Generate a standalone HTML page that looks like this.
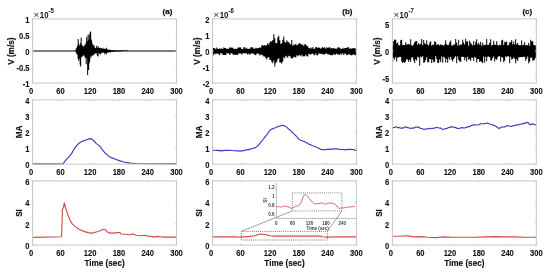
<!DOCTYPE html>
<html><head><meta charset="utf-8"><title>figure</title>
<style>html,body{margin:0;padding:0;background:#fff;width:550px;height:273px;overflow:hidden} svg{display:block}</style>
</head><body>
<svg width="550" height="273" viewBox="0 0 550 273">
<style>text{font-family:'Liberation Sans', Arial, sans-serif;font-weight:bold;fill:#111} .t{font-size:8.6px} .l{font-size:8.7px} .p{font-size:7.8px} .i{font-size:4.5px;fill:#3a3a3a}</style>
<rect width="550" height="273" fill="#fff"/>
<polygon points="32.65,50.40 33.15,50.40 33.15,50.40 33.65,50.40 33.65,50.40 34.15,50.40 34.15,50.40 34.65,50.40 34.65,50.40 35.15,50.40 35.15,50.40 35.65,50.40 35.65,50.40 36.15,50.40 36.15,50.40 36.65,50.40 36.65,50.40 37.15,50.40 37.15,50.40 37.65,50.40 37.65,50.40 38.15,50.40 38.15,50.40 38.65,50.40 38.65,50.40 39.15,50.40 39.15,50.40 39.65,50.40 39.65,50.40 40.15,50.40 40.15,50.40 40.65,50.40 40.65,50.40 41.15,50.40 41.15,50.40 41.65,50.40 41.65,50.40 42.15,50.40 42.15,50.40 42.65,50.40 42.65,50.40 43.15,50.40 43.15,50.40 43.65,50.40 43.65,50.40 44.15,50.40 44.15,50.40 44.65,50.40 44.65,50.40 45.15,50.40 45.15,50.40 45.65,50.40 45.65,50.40 46.15,50.40 46.15,50.40 46.65,50.40 46.65,50.40 47.15,50.40 47.15,50.40 47.65,50.40 47.65,50.40 48.15,50.40 48.15,50.40 48.65,50.40 48.65,50.40 49.15,50.40 49.15,50.40 49.65,50.40 49.65,50.40 50.15,50.40 50.15,50.40 50.65,50.40 50.65,50.40 51.15,50.40 51.15,50.40 51.65,50.40 51.65,50.40 52.15,50.40 52.15,50.40 52.65,50.40 52.65,50.40 53.15,50.40 53.15,50.40 53.65,50.40 53.65,50.40 54.15,50.40 54.15,50.40 54.65,50.40 54.65,50.40 55.15,50.40 55.15,50.40 55.65,50.40 55.65,50.40 56.15,50.40 56.15,50.40 56.65,50.40 56.65,50.40 57.15,50.40 57.15,50.40 57.65,50.40 57.65,50.40 58.15,50.40 58.15,50.40 58.65,50.40 58.65,50.40 59.15,50.40 59.15,50.40 59.65,50.40 59.65,50.40 60.15,50.40 60.15,50.40 60.65,50.40 60.65,50.40 61.15,50.40 61.15,50.40 61.65,50.40 61.65,50.40 62.15,50.40 62.15,50.40 62.65,50.40 62.65,50.40 63.15,50.40 63.15,50.40 63.65,50.40 63.65,50.40 64.15,50.40 64.15,50.40 64.65,50.40 64.65,50.40 65.15,50.40 65.15,50.40 65.65,50.40 65.65,50.40 66.15,50.40 66.15,50.40 66.65,50.40 66.65,50.40 67.15,50.40 67.15,50.40 67.65,50.40 67.65,50.40 68.15,50.40 68.15,50.40 68.65,50.40 68.65,50.40 69.15,50.40 69.15,50.40 69.65,50.40 69.65,50.40 70.15,50.40 70.15,50.40 70.65,50.40 70.65,50.40 71.15,50.40 71.15,50.40 71.65,50.40 71.65,50.40 72.15,50.40 72.15,50.40 72.65,50.40 72.65,50.40 73.15,50.40 73.15,50.40 73.65,50.40 73.65,50.40 74.15,50.40 74.15,50.40 74.65,50.40 74.65,50.40 75.15,50.40 75.15,50.15 75.65,50.15 75.65,48.59 76.15,48.59 76.15,48.21 76.65,48.21 76.65,47.02 77.15,47.02 77.15,45.50 77.65,45.50 77.65,39.00 78.15,39.00 78.15,39.00 78.65,39.00 78.65,43.72 79.15,43.72 79.15,45.72 79.65,45.72 79.65,44.41 80.15,44.41 80.15,42.79 80.65,42.79 80.65,37.60 81.15,37.60 81.15,37.60 81.65,37.60 81.65,44.80 82.15,44.80 82.15,45.15 82.65,45.15 82.65,46.22 83.15,46.22 83.15,47.08 83.65,47.08 83.65,45.86 84.15,45.86 84.15,45.72 84.65,45.72 84.65,44.35 85.15,44.35 85.15,44.76 85.65,44.76 85.65,42.41 86.15,42.41 86.15,37.60 86.65,37.60 86.65,36.53 87.15,36.53 87.15,41.31 87.65,41.31 87.65,34.50 88.15,34.50 88.15,34.50 88.65,34.50 88.65,39.72 89.15,39.72 89.15,34.57 89.65,34.57 89.65,32.60 90.15,32.60 90.15,31.40 90.65,31.40 90.65,31.40 91.15,31.40 91.15,39.44 91.65,39.44 91.65,40.52 92.15,40.52 92.15,44.21 92.65,44.21 92.65,43.57 93.15,43.57 93.15,45.04 93.65,45.04 93.65,45.90 94.15,45.90 94.15,45.14 94.65,45.14 94.65,47.41 95.15,47.41 95.15,47.94 95.65,47.94 95.65,48.31 96.15,48.31 96.15,45.80 96.65,45.80 96.65,45.80 97.15,45.80 97.15,47.95 97.65,47.95 97.65,46.35 98.15,46.35 98.15,46.51 98.65,46.51 98.65,47.40 99.15,47.40 99.15,47.95 99.65,47.95 99.65,47.81 100.15,47.81 100.15,47.74 100.65,47.74 100.65,48.19 101.15,48.19 101.15,47.96 101.65,47.96 101.65,48.47 102.15,48.47 102.15,48.85 102.65,48.85 102.65,47.53 103.15,47.53 103.15,49.10 103.65,49.10 103.65,48.05 104.15,48.05 104.15,48.68 104.65,48.68 104.65,49.12 105.15,49.12 105.15,48.68 105.65,48.68 105.65,49.04 106.15,49.04 106.15,47.80 106.65,47.80 106.65,47.80 107.15,47.80 107.15,49.64 107.65,49.64 107.65,49.33 108.15,49.33 108.15,49.81 108.65,49.81 108.65,49.70 109.15,49.70 109.15,49.36 109.65,49.36 109.65,50.08 110.15,50.08 110.15,49.95 110.65,49.95 110.65,49.86 111.15,49.86 111.15,50.13 111.65,50.13 111.65,50.20 112.15,50.20 112.15,50.13 112.65,50.13 112.65,50.21 113.15,50.21 113.15,50.02 113.65,50.02 113.65,50.21 114.15,50.21 114.15,49.98 114.65,49.98 114.65,50.25 115.15,50.25 115.15,50.28 115.65,50.28 115.65,50.29 116.15,50.29 116.15,49.93 116.65,49.93 116.65,50.33 117.15,50.33 117.15,50.29 117.65,50.29 117.65,50.21 118.15,50.21 118.15,50.33 118.65,50.33 118.65,50.31 119.15,50.31 119.15,50.15 119.65,50.15 119.65,50.33 120.15,50.33 120.15,50.32 120.65,50.32 120.65,50.35 121.15,50.35 121.15,50.32 121.65,50.32 121.65,50.10 122.15,50.10 122.15,50.33 122.65,50.33 122.65,50.31 123.15,50.31 123.15,50.33 123.65,50.33 123.65,50.35 124.15,50.35 124.15,50.32 124.65,50.32 124.65,50.36 125.15,50.36 125.15,50.36 125.65,50.36 125.65,50.34 126.15,50.34 126.15,50.37 126.65,50.37 126.65,50.36 127.15,50.36 127.15,50.37 127.65,50.37 127.65,50.37 128.15,50.37 128.15,50.38 128.65,50.38 128.65,50.39 129.15,50.39 129.15,50.39 129.65,50.39 129.65,50.40 130.15,50.40 130.15,50.40 130.65,50.40 130.65,50.40 131.15,50.40 131.15,50.40 131.65,50.40 131.65,50.40 132.15,50.40 132.15,50.40 132.65,50.40 132.65,50.40 133.15,50.40 133.15,50.40 133.65,50.40 133.65,50.40 134.15,50.40 134.15,50.40 134.65,50.40 134.65,50.40 135.15,50.40 135.15,50.40 135.65,50.40 135.65,50.40 136.15,50.40 136.15,50.40 136.65,50.40 136.65,50.40 137.15,50.40 137.15,50.40 137.65,50.40 137.65,50.40 138.15,50.40 138.15,50.40 138.65,50.40 138.65,50.40 139.15,50.40 139.15,50.40 139.65,50.40 139.65,50.40 140.15,50.40 140.15,50.40 140.65,50.40 140.65,50.40 141.15,50.40 141.15,50.40 141.65,50.40 141.65,50.40 142.15,50.40 142.15,50.40 142.65,50.40 142.65,50.40 143.15,50.40 143.15,50.40 143.65,50.40 143.65,50.40 144.15,50.40 144.15,50.40 144.65,50.40 144.65,50.40 145.15,50.40 145.15,50.40 145.65,50.40 145.65,50.40 146.15,50.40 146.15,50.40 146.65,50.40 146.65,50.40 147.15,50.40 147.15,50.40 147.65,50.40 147.65,50.40 148.15,50.40 148.15,50.40 148.65,50.40 148.65,50.40 149.15,50.40 149.15,50.40 149.65,50.40 149.65,50.40 150.15,50.40 150.15,50.40 150.65,50.40 150.65,50.40 151.15,50.40 151.15,50.40 151.65,50.40 151.65,50.40 152.15,50.40 152.15,50.40 152.65,50.40 152.65,50.40 153.15,50.40 153.15,50.40 153.65,50.40 153.65,50.40 154.15,50.40 154.15,50.40 154.65,50.40 154.65,50.40 155.15,50.40 155.15,50.40 155.65,50.40 155.65,50.40 156.15,50.40 156.15,50.40 156.65,50.40 156.65,50.40 157.15,50.40 157.15,50.40 157.65,50.40 157.65,50.40 158.15,50.40 158.15,50.40 158.65,50.40 158.65,50.40 159.15,50.40 159.15,50.40 159.65,50.40 159.65,50.40 160.15,50.40 160.15,50.40 160.65,50.40 160.65,50.40 161.15,50.40 161.15,50.40 161.65,50.40 161.65,50.40 162.15,50.40 162.15,50.40 162.65,50.40 162.65,50.40 163.15,50.40 163.15,50.40 163.65,50.40 163.65,50.40 164.15,50.40 164.15,50.40 164.65,50.40 164.65,50.40 165.15,50.40 165.15,50.40 165.65,50.40 165.65,50.40 166.15,50.40 166.15,50.40 166.65,50.40 166.65,50.40 167.15,50.40 167.15,50.40 167.65,50.40 167.65,50.40 168.15,50.40 168.15,50.40 168.65,50.40 168.65,50.40 169.15,50.40 169.15,50.40 169.65,50.40 169.65,50.40 170.15,50.40 170.15,50.40 170.65,50.40 170.65,50.40 171.15,50.40 171.15,50.40 171.65,50.40 171.65,50.40 172.15,50.40 172.15,50.40 172.65,50.40 172.65,50.40 173.15,50.40 173.15,50.40 173.65,50.40 173.65,50.40 174.15,50.40 174.15,50.40 174.65,50.40 174.65,50.40 175.15,50.40 175.15,50.40 175.65,50.40 175.65,50.40 176.15,50.40 176.15,51.60 175.65,51.60 175.65,51.60 175.15,51.60 175.15,51.60 174.65,51.60 174.65,51.60 174.15,51.60 174.15,51.60 173.65,51.60 173.65,51.60 173.15,51.60 173.15,51.60 172.65,51.60 172.65,51.60 172.15,51.60 172.15,51.60 171.65,51.60 171.65,51.60 171.15,51.60 171.15,51.60 170.65,51.60 170.65,51.60 170.15,51.60 170.15,51.60 169.65,51.60 169.65,51.60 169.15,51.60 169.15,51.60 168.65,51.60 168.65,51.60 168.15,51.60 168.15,51.60 167.65,51.60 167.65,51.60 167.15,51.60 167.15,51.60 166.65,51.60 166.65,51.60 166.15,51.60 166.15,51.60 165.65,51.60 165.65,51.60 165.15,51.60 165.15,51.60 164.65,51.60 164.65,51.60 164.15,51.60 164.15,51.60 163.65,51.60 163.65,51.60 163.15,51.60 163.15,51.60 162.65,51.60 162.65,51.60 162.15,51.60 162.15,51.60 161.65,51.60 161.65,51.60 161.15,51.60 161.15,51.60 160.65,51.60 160.65,51.60 160.15,51.60 160.15,51.60 159.65,51.60 159.65,51.60 159.15,51.60 159.15,51.60 158.65,51.60 158.65,51.60 158.15,51.60 158.15,51.60 157.65,51.60 157.65,51.60 157.15,51.60 157.15,51.60 156.65,51.60 156.65,51.60 156.15,51.60 156.15,51.60 155.65,51.60 155.65,51.60 155.15,51.60 155.15,51.60 154.65,51.60 154.65,51.60 154.15,51.60 154.15,51.60 153.65,51.60 153.65,51.60 153.15,51.60 153.15,51.60 152.65,51.60 152.65,51.60 152.15,51.60 152.15,51.60 151.65,51.60 151.65,51.60 151.15,51.60 151.15,51.60 150.65,51.60 150.65,51.60 150.15,51.60 150.15,51.60 149.65,51.60 149.65,51.60 149.15,51.60 149.15,51.60 148.65,51.60 148.65,51.60 148.15,51.60 148.15,51.60 147.65,51.60 147.65,51.60 147.15,51.60 147.15,51.60 146.65,51.60 146.65,51.60 146.15,51.60 146.15,51.60 145.65,51.60 145.65,51.60 145.15,51.60 145.15,51.60 144.65,51.60 144.65,51.60 144.15,51.60 144.15,51.60 143.65,51.60 143.65,51.60 143.15,51.60 143.15,51.60 142.65,51.60 142.65,51.60 142.15,51.60 142.15,51.60 141.65,51.60 141.65,51.60 141.15,51.60 141.15,51.60 140.65,51.60 140.65,51.60 140.15,51.60 140.15,51.60 139.65,51.60 139.65,51.60 139.15,51.60 139.15,51.60 138.65,51.60 138.65,51.60 138.15,51.60 138.15,51.60 137.65,51.60 137.65,51.60 137.15,51.60 137.15,51.60 136.65,51.60 136.65,51.60 136.15,51.60 136.15,51.60 135.65,51.60 135.65,51.60 135.15,51.60 135.15,51.60 134.65,51.60 134.65,51.60 134.15,51.60 134.15,51.60 133.65,51.60 133.65,51.60 133.15,51.60 133.15,51.60 132.65,51.60 132.65,51.60 132.15,51.60 132.15,51.60 131.65,51.60 131.65,51.60 131.15,51.60 131.15,51.60 130.65,51.60 130.65,51.60 130.15,51.60 130.15,51.60 129.65,51.60 129.65,51.60 129.15,51.60 129.15,51.60 128.65,51.60 128.65,51.60 128.15,51.60 128.15,51.60 127.65,51.60 127.65,51.60 127.15,51.60 127.15,51.60 126.65,51.60 126.65,51.60 126.15,51.60 126.15,51.60 125.65,51.60 125.65,51.60 125.15,51.60 125.15,51.60 124.65,51.60 124.65,51.60 124.15,51.60 124.15,51.60 123.65,51.60 123.65,51.60 123.15,51.60 123.15,51.60 122.65,51.60 122.65,51.61 122.15,51.61 122.15,51.79 121.65,51.79 121.65,51.62 121.15,51.62 121.15,51.64 120.65,51.64 120.65,51.63 120.15,51.63 120.15,51.64 119.65,51.64 119.65,51.66 119.15,51.66 119.15,51.64 118.65,51.64 118.65,51.64 118.15,51.64 118.15,51.69 117.65,51.69 117.65,51.68 117.15,51.68 117.15,51.69 116.65,51.69 116.65,51.71 116.15,51.71 116.15,51.77 115.65,51.77 115.65,51.73 115.15,51.73 115.15,51.84 114.65,51.84 114.65,51.76 114.15,51.76 114.15,51.78 113.65,51.78 113.65,51.91 113.15,51.91 113.15,51.95 112.65,51.95 112.65,51.88 112.15,51.88 112.15,51.93 111.65,51.93 111.65,52.04 111.15,52.04 111.15,51.92 110.65,51.92 110.65,52.56 110.15,52.56 110.15,52.18 109.65,52.18 109.65,52.06 109.15,52.06 109.15,52.81 108.65,52.81 108.65,52.14 108.15,52.14 108.15,52.70 107.65,52.70 107.65,52.75 107.15,52.75 107.15,52.64 106.65,52.64 106.65,54.40 106.15,54.40 106.15,54.40 105.65,54.40 105.65,53.35 105.15,53.35 105.15,53.13 104.65,53.13 104.65,54.38 104.15,54.38 104.15,52.59 103.65,52.59 103.65,52.78 103.15,52.78 103.15,52.66 102.65,52.66 102.65,52.64 102.15,52.64 102.15,52.97 101.65,52.97 101.65,52.87 101.15,52.87 101.15,54.71 100.65,54.71 100.65,54.56 100.15,54.56 100.15,53.25 99.65,53.25 99.65,54.02 99.15,54.02 99.15,52.89 98.65,52.89 98.65,56.50 98.15,56.50 98.15,56.50 97.65,56.50 97.65,55.82 97.15,55.82 97.15,54.76 96.65,54.76 96.65,53.05 96.15,53.05 96.15,52.94 95.65,52.94 95.65,53.75 95.15,53.75 95.15,53.31 94.65,53.31 94.65,54.93 94.15,54.93 94.15,54.05 93.65,54.05 93.65,54.93 93.15,54.93 93.15,56.30 92.65,56.30 92.65,55.79 92.15,55.79 92.15,55.30 91.65,55.30 91.65,57.28 91.15,57.28 91.15,56.02 90.65,56.02 90.65,58.27 90.15,58.27 90.15,61.68 89.65,61.68 89.65,63.46 89.15,63.46 89.15,70.00 88.65,70.00 88.65,70.00 88.15,70.00 88.15,75.00 87.65,75.00 87.65,75.00 87.15,75.00 87.15,58.39 86.65,58.39 86.65,64.30 86.15,64.30 86.15,64.30 85.65,64.30 85.65,57.65 85.15,57.65 85.15,57.56 84.65,57.56 84.65,56.22 84.15,56.22 84.15,54.78 83.65,54.78 83.65,55.62 83.15,55.62 83.15,56.40 82.65,56.40 82.65,55.98 82.15,55.98 82.15,57.24 81.65,57.24 81.65,57.32 81.15,57.32 81.15,66.40 80.65,66.40 80.65,66.40 80.15,66.40 80.15,64.55 79.65,64.55 79.65,58.57 79.15,58.57 79.15,60.70 78.65,60.70 78.65,60.70 78.15,60.70 78.15,58.92 77.65,58.92 77.65,54.64 77.15,54.64 77.15,54.39 76.65,54.39 76.65,53.44 76.15,53.44 76.15,52.20 75.65,52.20 75.65,51.60 75.15,51.60 75.15,51.60 74.65,51.60 74.65,51.60 74.15,51.60 74.15,51.60 73.65,51.60 73.65,51.60 73.15,51.60 73.15,51.60 72.65,51.60 72.65,51.60 72.15,51.60 72.15,51.60 71.65,51.60 71.65,51.60 71.15,51.60 71.15,51.60 70.65,51.60 70.65,51.60 70.15,51.60 70.15,51.60 69.65,51.60 69.65,51.60 69.15,51.60 69.15,51.60 68.65,51.60 68.65,51.60 68.15,51.60 68.15,51.60 67.65,51.60 67.65,51.60 67.15,51.60 67.15,51.60 66.65,51.60 66.65,51.60 66.15,51.60 66.15,51.60 65.65,51.60 65.65,51.60 65.15,51.60 65.15,51.60 64.65,51.60 64.65,51.60 64.15,51.60 64.15,51.60 63.65,51.60 63.65,51.60 63.15,51.60 63.15,51.60 62.65,51.60 62.65,51.60 62.15,51.60 62.15,51.60 61.65,51.60 61.65,51.60 61.15,51.60 61.15,51.60 60.65,51.60 60.65,51.60 60.15,51.60 60.15,51.60 59.65,51.60 59.65,51.60 59.15,51.60 59.15,51.60 58.65,51.60 58.65,51.60 58.15,51.60 58.15,51.60 57.65,51.60 57.65,51.60 57.15,51.60 57.15,51.60 56.65,51.60 56.65,51.60 56.15,51.60 56.15,51.60 55.65,51.60 55.65,51.60 55.15,51.60 55.15,51.60 54.65,51.60 54.65,51.60 54.15,51.60 54.15,51.60 53.65,51.60 53.65,51.60 53.15,51.60 53.15,51.60 52.65,51.60 52.65,51.60 52.15,51.60 52.15,51.60 51.65,51.60 51.65,51.60 51.15,51.60 51.15,51.60 50.65,51.60 50.65,51.60 50.15,51.60 50.15,51.60 49.65,51.60 49.65,51.60 49.15,51.60 49.15,51.60 48.65,51.60 48.65,51.60 48.15,51.60 48.15,51.60 47.65,51.60 47.65,51.60 47.15,51.60 47.15,51.60 46.65,51.60 46.65,51.60 46.15,51.60 46.15,51.60 45.65,51.60 45.65,51.60 45.15,51.60 45.15,51.60 44.65,51.60 44.65,51.60 44.15,51.60 44.15,51.60 43.65,51.60 43.65,51.60 43.15,51.60 43.15,51.60 42.65,51.60 42.65,51.60 42.15,51.60 42.15,51.60 41.65,51.60 41.65,51.60 41.15,51.60 41.15,51.60 40.65,51.60 40.65,51.60 40.15,51.60 40.15,51.60 39.65,51.60 39.65,51.60 39.15,51.60 39.15,51.60 38.65,51.60 38.65,51.60 38.15,51.60 38.15,51.60 37.65,51.60 37.65,51.60 37.15,51.60 37.15,51.60 36.65,51.60 36.65,51.60 36.15,51.60 36.15,51.60 35.65,51.60 35.65,51.60 35.15,51.60 35.15,51.60 34.65,51.60 34.65,51.60 34.15,51.60 34.15,51.60 33.65,51.60 33.65,51.60 33.15,51.60 33.15,51.60 32.65,51.60" fill="#000"/>
<polygon points="212.30,48.11 213.30,48.11 213.30,47.89 214.30,47.89 214.30,48.30 215.30,48.30 215.30,49.16 216.30,49.16 216.30,47.52 217.30,47.52 217.30,48.80 218.30,48.80 218.30,49.10 219.30,49.10 219.30,48.31 220.30,48.31 220.30,49.05 221.30,49.05 221.30,48.27 222.30,48.27 222.30,48.88 223.30,48.88 223.30,47.59 224.30,47.59 224.30,47.97 225.30,47.97 225.30,47.89 226.30,47.89 226.30,48.95 227.30,48.95 227.30,48.82 228.30,48.82 228.30,48.63 229.30,48.63 229.30,47.21 230.30,47.21 230.30,47.82 231.30,47.82 231.30,47.60 232.30,47.60 232.30,47.73 233.30,47.73 233.30,48.88 234.30,48.88 234.30,48.66 235.30,48.66 235.30,48.72 236.30,48.72 236.30,48.98 237.30,48.98 237.30,47.50 238.30,47.50 238.30,47.76 239.30,47.76 239.30,47.13 240.30,47.13 240.30,47.40 241.30,47.40 241.30,49.10 242.30,49.10 242.30,49.04 243.30,49.04 243.30,47.15 244.30,47.15 244.30,47.27 245.30,47.27 245.30,48.65 246.30,48.65 246.30,47.85 247.30,47.85 247.30,48.91 248.30,48.91 248.30,48.84 249.30,48.84 249.30,48.79 250.30,48.79 250.30,47.19 251.30,47.19 251.30,47.33 252.30,47.33 252.30,47.40 253.30,47.40 253.30,48.77 254.30,48.77 254.30,48.64 255.30,48.64 255.30,47.68 256.30,47.68 256.30,48.19 257.30,48.19 257.30,48.34 258.30,48.34 258.30,48.08 259.30,48.08 259.30,47.22 260.30,47.22 260.30,47.82 261.30,47.82 261.30,45.13 262.30,45.13 262.30,45.15 263.30,45.15 263.30,45.83 264.30,45.83 264.30,44.89 265.30,44.89 265.30,45.65 266.30,45.65 266.30,44.97 267.30,44.97 267.30,42.88 268.30,42.88 268.30,44.38 269.30,44.38 269.30,42.50 270.30,42.50 270.30,40.89 271.30,40.89 271.30,41.77 272.30,41.77 272.30,40.00 273.30,40.00 273.30,34.30 274.30,34.30 274.30,38.21 275.30,38.21 275.30,43.12 276.30,43.12 276.30,43.17 277.30,43.17 277.30,37.56 278.30,37.56 278.30,35.70 279.30,35.70 279.30,40.30 280.30,40.30 280.30,43.89 281.30,43.89 281.30,43.09 282.30,43.09 282.30,39.80 283.30,39.80 283.30,36.40 284.30,36.40 284.30,41.68 285.30,41.68 285.30,42.67 286.30,42.67 286.30,40.21 287.30,40.21 287.30,41.68 288.30,41.68 288.30,42.35 289.30,42.35 289.30,43.52 290.30,43.52 290.30,44.56 291.30,44.56 291.30,40.00 292.30,40.00 292.30,45.74 293.30,45.74 293.30,44.43 294.30,44.43 294.30,44.65 295.30,44.65 295.30,43.64 296.30,43.64 296.30,45.26 297.30,45.26 297.30,44.86 298.30,44.86 298.30,43.50 299.30,43.50 299.30,43.21 300.30,43.21 300.30,43.71 301.30,43.71 301.30,44.65 302.30,44.65 302.30,44.43 303.30,44.43 303.30,46.12 304.30,46.12 304.30,44.12 305.30,44.12 305.30,44.46 306.30,44.46 306.30,45.74 307.30,45.74 307.30,46.20 308.30,46.20 308.30,47.94 309.30,47.94 309.30,48.56 310.30,48.56 310.30,47.46 311.30,47.46 311.30,48.50 312.30,48.50 312.30,46.94 313.30,46.94 313.30,48.75 314.30,48.75 314.30,48.73 315.30,48.73 315.30,47.07 316.30,47.07 316.30,47.16 317.30,47.16 317.30,47.88 318.30,47.88 318.30,47.13 319.30,47.13 319.30,47.89 320.30,47.89 320.30,48.80 321.30,48.80 321.30,47.84 322.30,47.84 322.30,47.00 323.30,47.00 323.30,48.04 324.30,48.04 324.30,47.36 325.30,47.36 325.30,48.73 326.30,48.73 326.30,47.36 327.30,47.36 327.30,48.10 328.30,48.10 328.30,47.57 329.30,47.57 329.30,47.00 330.30,47.00 330.30,48.55 331.30,48.55 331.30,48.07 332.30,48.07 332.30,48.50 333.30,48.50 333.30,47.99 334.30,47.99 334.30,48.76 335.30,48.76 335.30,48.41 336.30,48.41 336.30,48.86 337.30,48.86 337.30,47.41 338.30,47.41 338.30,47.14 339.30,47.14 339.30,47.75 340.30,47.75 340.30,48.66 341.30,48.66 341.30,48.89 342.30,48.89 342.30,47.84 343.30,47.84 343.30,48.77 344.30,48.77 344.30,47.91 345.30,47.91 345.30,47.85 346.30,47.85 346.30,48.03 347.30,48.03 347.30,47.10 348.30,47.10 348.30,47.44 349.30,47.44 349.30,49.02 350.30,49.02 350.30,48.09 351.30,48.09 351.30,48.96 352.30,48.96 352.30,47.96 353.30,47.96 353.30,48.18 354.30,48.18 354.30,48.19 355.30,48.19 355.30,48.73 356.30,48.73 356.30,55.05 355.30,55.05 355.30,55.33 354.30,55.33 354.30,54.34 353.30,54.34 353.30,54.64 352.30,54.64 352.30,55.21 351.30,55.21 351.30,55.26 350.30,55.26 350.30,54.56 349.30,54.56 349.30,54.09 348.30,54.09 348.30,54.90 347.30,54.90 347.30,55.22 346.30,55.22 346.30,53.73 345.30,53.73 345.30,53.39 344.30,53.39 344.30,54.92 343.30,54.92 343.30,53.15 342.30,53.15 342.30,54.56 341.30,54.56 341.30,53.56 340.30,53.56 340.30,55.07 339.30,55.07 339.30,54.53 338.30,54.53 338.30,54.47 337.30,54.47 337.30,53.39 336.30,53.39 336.30,54.51 335.30,54.51 335.30,54.98 334.30,54.98 334.30,53.67 333.30,53.67 333.30,55.27 332.30,55.27 332.30,54.96 331.30,54.96 331.30,55.37 330.30,55.37 330.30,54.75 329.30,54.75 329.30,54.36 328.30,54.36 328.30,54.47 327.30,54.47 327.30,53.49 326.30,53.49 326.30,53.44 325.30,53.44 325.30,54.26 324.30,54.26 324.30,54.73 323.30,54.73 323.30,54.29 322.30,54.29 322.30,53.85 321.30,53.85 321.30,54.03 320.30,54.03 320.30,53.47 319.30,53.47 319.30,53.59 318.30,53.59 318.30,55.34 317.30,55.34 317.30,55.17 316.30,55.17 316.30,53.26 315.30,53.26 315.30,55.14 314.30,55.14 314.30,54.66 313.30,54.66 313.30,53.56 312.30,53.56 312.30,53.66 311.30,53.66 311.30,54.74 310.30,54.74 310.30,54.00 309.30,54.00 309.30,54.04 308.30,54.04 308.30,56.40 307.30,56.40 307.30,56.25 306.30,56.25 306.30,54.73 305.30,54.73 305.30,56.31 304.30,56.31 304.30,56.28 303.30,56.28 303.30,56.49 302.30,56.49 302.30,54.74 301.30,54.74 301.30,56.28 300.30,56.28 300.30,55.29 299.30,55.29 299.30,55.23 298.30,55.23 298.30,56.25 297.30,56.25 297.30,55.35 296.30,55.35 296.30,57.44 295.30,57.44 295.30,57.11 294.30,57.11 294.30,56.69 293.30,56.69 293.30,58.35 292.30,58.35 292.30,58.41 291.30,58.41 291.30,57.65 290.30,57.65 290.30,56.02 289.30,56.02 289.30,55.81 288.30,55.81 288.30,57.81 287.30,57.81 287.30,56.87 286.30,56.87 286.30,55.85 285.30,55.85 285.30,58.59 284.30,58.59 284.30,57.32 283.30,57.32 283.30,61.41 282.30,61.41 282.30,63.60 281.30,63.60 281.30,62.44 280.30,62.44 280.30,62.59 279.30,62.59 279.30,58.21 278.30,58.21 278.30,59.14 277.30,59.14 277.30,61.48 276.30,61.48 276.30,63.29 275.30,63.29 275.30,66.40 274.30,66.40 274.30,60.40 273.30,60.40 273.30,63.21 272.30,63.21 272.30,61.96 271.30,61.96 271.30,59.94 270.30,59.94 270.30,59.87 269.30,59.87 269.30,56.91 268.30,56.91 268.30,57.51 267.30,57.51 267.30,59.43 266.30,59.43 266.30,58.06 265.30,58.06 265.30,56.55 264.30,56.55 264.30,56.38 263.30,56.38 263.30,55.48 262.30,55.48 262.30,54.65 261.30,54.65 261.30,54.52 260.30,54.52 260.30,55.50 259.30,55.50 259.30,53.76 258.30,53.76 258.30,53.69 257.30,53.69 257.30,53.50 256.30,53.50 256.30,55.36 255.30,55.36 255.30,54.73 254.30,54.73 254.30,53.64 253.30,53.64 253.30,53.64 252.30,53.64 252.30,53.07 251.30,53.07 251.30,54.02 250.30,54.02 250.30,54.67 249.30,54.67 249.30,53.49 248.30,53.49 248.30,54.78 247.30,54.78 247.30,53.52 246.30,53.52 246.30,53.28 245.30,53.28 245.30,53.43 244.30,53.43 244.30,53.11 243.30,53.11 243.30,53.49 242.30,53.49 242.30,54.54 241.30,54.54 241.30,53.46 240.30,53.46 240.30,53.40 239.30,53.40 239.30,53.19 238.30,53.19 238.30,54.89 237.30,54.89 237.30,54.42 236.30,54.42 236.30,55.10 235.30,55.10 235.30,54.55 234.30,54.55 234.30,54.90 233.30,54.90 233.30,54.15 232.30,54.15 232.30,53.08 231.30,53.08 231.30,53.71 230.30,53.71 230.30,54.98 229.30,54.98 229.30,53.17 228.30,53.17 228.30,53.61 227.30,53.61 227.30,53.35 226.30,53.35 226.30,54.89 225.30,54.89 225.30,54.95 224.30,54.95 224.30,54.90 223.30,54.90 223.30,54.63 222.30,54.63 222.30,53.48 221.30,53.48 221.30,53.09 220.30,53.09 220.30,55.29 219.30,55.29 219.30,54.37 218.30,54.37 218.30,53.60 217.30,53.60 217.30,53.60 216.30,53.60 216.30,54.22 215.30,54.22 215.30,53.17 214.30,53.17 214.30,55.32 213.30,55.32 213.30,53.43 212.30,53.43" fill="#000"/>
<polygon points="392.20,45.63 393.20,45.63 393.20,41.11 394.20,41.11 394.20,39.41 395.20,39.41 395.20,39.83 396.20,39.83 396.20,43.62 397.20,43.62 397.20,42.46 398.20,42.46 398.20,44.98 399.20,44.98 399.20,45.51 400.20,45.51 400.20,40.16 401.20,40.16 401.20,39.81 402.20,39.81 402.20,45.12 403.20,45.12 403.20,44.91 404.20,44.91 404.20,45.06 405.20,45.06 405.20,42.22 406.20,42.22 406.20,44.55 407.20,44.55 407.20,44.18 408.20,44.18 408.20,43.69 409.20,43.69 409.20,44.70 410.20,44.70 410.20,39.21 411.20,39.21 411.20,45.29 412.20,45.29 412.20,45.77 413.20,45.77 413.20,44.16 414.20,44.16 414.20,41.98 415.20,41.98 415.20,41.31 416.20,41.31 416.20,41.07 417.20,41.07 417.20,44.80 418.20,44.80 418.20,42.89 419.20,42.89 419.20,44.49 420.20,44.49 420.20,43.80 421.20,43.80 421.20,38.96 422.20,38.96 422.20,45.15 423.20,45.15 423.20,40.08 424.20,40.08 424.20,43.26 425.20,43.26 425.20,44.23 426.20,44.23 426.20,40.28 427.20,40.28 427.20,44.73 428.20,44.73 428.20,45.28 429.20,45.28 429.20,42.43 430.20,42.43 430.20,41.31 431.20,41.31 431.20,45.41 432.20,45.41 432.20,44.39 433.20,44.39 433.20,44.68 434.20,44.68 434.20,41.27 435.20,41.27 435.20,41.92 436.20,41.92 436.20,45.06 437.20,45.06 437.20,44.51 438.20,44.51 438.20,44.31 439.20,44.31 439.20,45.60 440.20,45.60 440.20,44.36 441.20,44.36 441.20,45.12 442.20,45.12 442.20,44.98 443.20,44.98 443.20,45.53 444.20,45.53 444.20,44.61 445.20,44.61 445.20,40.14 446.20,40.14 446.20,44.33 447.20,44.33 447.20,45.32 448.20,45.32 448.20,44.84 449.20,44.84 449.20,42.34 450.20,42.34 450.20,40.45 451.20,40.45 451.20,45.45 452.20,45.45 452.20,45.47 453.20,45.47 453.20,44.53 454.20,44.53 454.20,44.52 455.20,44.52 455.20,38.88 456.20,38.88 456.20,42.55 457.20,42.55 457.20,45.43 458.20,45.43 458.20,39.69 459.20,39.69 459.20,45.49 460.20,45.49 460.20,44.17 461.20,44.17 461.20,44.74 462.20,44.74 462.20,39.76 463.20,39.76 463.20,42.56 464.20,42.56 464.20,44.47 465.20,44.47 465.20,38.87 466.20,38.87 466.20,41.72 467.20,41.72 467.20,41.23 468.20,41.23 468.20,45.63 469.20,45.63 469.20,40.74 470.20,40.74 470.20,42.71 471.20,42.71 471.20,44.35 472.20,44.35 472.20,45.56 473.20,45.56 473.20,41.09 474.20,41.09 474.20,44.95 475.20,44.95 475.20,42.20 476.20,42.20 476.20,39.16 477.20,39.16 477.20,44.60 478.20,44.60 478.20,42.67 479.20,42.67 479.20,44.87 480.20,44.87 480.20,41.77 481.20,41.77 481.20,45.69 482.20,45.69 482.20,42.82 483.20,42.82 483.20,45.16 484.20,45.16 484.20,44.79 485.20,44.79 485.20,44.66 486.20,44.66 486.20,38.93 487.20,38.93 487.20,44.90 488.20,44.90 488.20,44.85 489.20,44.85 489.20,42.80 490.20,42.80 490.20,39.30 491.20,39.30 491.20,45.56 492.20,45.56 492.20,44.97 493.20,44.97 493.20,40.84 494.20,40.84 494.20,44.49 495.20,44.49 495.20,45.12 496.20,45.12 496.20,41.18 497.20,41.18 497.20,44.90 498.20,44.90 498.20,45.43 499.20,45.43 499.20,44.54 500.20,44.54 500.20,45.13 501.20,45.13 501.20,40.45 502.20,40.45 502.20,39.74 503.20,39.74 503.20,45.12 504.20,45.12 504.20,41.73 505.20,41.73 505.20,42.27 506.20,42.27 506.20,41.62 507.20,41.62 507.20,45.62 508.20,45.62 508.20,44.86 509.20,44.86 509.20,42.26 510.20,42.26 510.20,42.35 511.20,42.35 511.20,39.92 512.20,39.92 512.20,44.20 513.20,44.20 513.20,41.48 514.20,41.48 514.20,44.54 515.20,44.54 515.20,39.14 516.20,39.14 516.20,44.41 517.20,44.41 517.20,42.94 518.20,42.94 518.20,44.97 519.20,44.97 519.20,45.20 520.20,45.20 520.20,45.34 521.20,45.34 521.20,40.54 522.20,40.54 522.20,45.24 523.20,45.24 523.20,44.75 524.20,44.75 524.20,42.17 525.20,42.17 525.20,45.60 526.20,45.60 526.20,45.04 527.20,45.04 527.20,45.13 528.20,45.13 528.20,42.94 529.20,42.94 529.20,45.63 530.20,45.63 530.20,39.78 531.20,39.78 531.20,41.61 532.20,41.61 532.20,41.09 533.20,41.09 533.20,44.67 534.20,44.67 534.20,45.22 535.20,45.22 535.20,45.45 536.20,45.45 536.20,57.69 535.20,57.69 535.20,59.41 534.20,59.41 534.20,60.51 533.20,60.51 533.20,60.51 532.20,60.51 532.20,57.61 531.20,57.61 531.20,57.68 530.20,57.68 530.20,61.46 529.20,61.46 529.20,63.15 528.20,63.15 528.20,56.59 527.20,56.59 527.20,58.72 526.20,58.72 526.20,60.69 525.20,60.69 525.20,56.96 524.20,56.96 524.20,56.55 523.20,56.55 523.20,57.30 522.20,57.30 522.20,56.94 521.20,56.94 521.20,57.07 520.20,57.07 520.20,57.20 519.20,57.20 519.20,57.59 518.20,57.59 518.20,61.10 517.20,61.10 517.20,59.27 516.20,59.27 516.20,63.25 515.20,63.25 515.20,58.81 514.20,58.81 514.20,57.53 513.20,57.53 513.20,59.02 512.20,59.02 512.20,59.41 511.20,59.41 511.20,56.74 510.20,56.74 510.20,63.23 509.20,63.23 509.20,56.25 508.20,56.25 508.20,56.34 507.20,56.34 507.20,57.30 506.20,57.30 506.20,56.28 505.20,56.28 505.20,60.77 504.20,60.77 504.20,62.24 503.20,62.24 503.20,57.77 502.20,57.77 502.20,57.09 501.20,57.09 501.20,61.71 500.20,61.71 500.20,56.29 499.20,56.29 499.20,56.35 498.20,56.35 498.20,57.54 497.20,57.54 497.20,60.05 496.20,60.05 496.20,58.70 495.20,58.70 495.20,61.55 494.20,61.55 494.20,56.53 493.20,56.53 493.20,57.89 492.20,57.89 492.20,60.60 491.20,60.60 491.20,60.47 490.20,60.47 490.20,57.27 489.20,57.27 489.20,56.53 488.20,56.53 488.20,56.83 487.20,56.83 487.20,61.25 486.20,61.25 486.20,56.65 485.20,56.65 485.20,62.48 484.20,62.48 484.20,56.53 483.20,56.53 483.20,62.98 482.20,62.98 482.20,62.18 481.20,62.18 481.20,61.11 480.20,61.11 480.20,62.10 479.20,62.10 479.20,59.16 478.20,59.16 478.20,58.88 477.20,58.88 477.20,62.55 476.20,62.55 476.20,57.68 475.20,57.68 475.20,56.89 474.20,56.89 474.20,60.89 473.20,60.89 473.20,57.86 472.20,57.86 472.20,57.78 471.20,57.78 471.20,61.12 470.20,61.12 470.20,59.11 469.20,59.11 469.20,59.65 468.20,59.65 468.20,56.77 467.20,56.77 467.20,61.48 466.20,61.48 466.20,57.54 465.20,57.54 465.20,60.21 464.20,60.21 464.20,56.89 463.20,56.89 463.20,56.87 462.20,56.87 462.20,56.87 461.20,56.87 461.20,61.90 460.20,61.90 460.20,61.50 459.20,61.50 459.20,60.12 458.20,60.12 458.20,56.42 457.20,56.42 457.20,63.14 456.20,63.14 456.20,56.33 455.20,56.33 455.20,57.42 454.20,57.42 454.20,59.10 453.20,59.10 453.20,61.55 452.20,61.55 452.20,59.83 451.20,59.83 451.20,56.84 450.20,56.84 450.20,59.83 449.20,59.83 449.20,57.55 448.20,57.55 448.20,62.75 447.20,62.75 447.20,58.99 446.20,58.99 446.20,62.46 445.20,62.46 445.20,57.68 444.20,57.68 444.20,56.66 443.20,56.66 443.20,62.69 442.20,62.69 442.20,56.43 441.20,56.43 441.20,62.04 440.20,62.04 440.20,59.53 439.20,59.53 439.20,62.77 438.20,62.77 438.20,63.03 437.20,63.03 437.20,58.99 436.20,58.99 436.20,56.31 435.20,56.31 435.20,61.80 434.20,61.80 434.20,62.23 433.20,62.23 433.20,59.50 432.20,59.50 432.20,63.09 431.20,63.09 431.20,59.21 430.20,59.21 430.20,59.06 429.20,59.06 429.20,62.32 428.20,62.32 428.20,62.25 427.20,62.25 427.20,57.21 426.20,57.21 426.20,60.27 425.20,60.27 425.20,62.24 424.20,62.24 424.20,62.69 423.20,62.69 423.20,56.30 422.20,56.30 422.20,57.54 421.20,57.54 421.20,56.54 420.20,56.54 420.20,65.80 419.20,65.80 419.20,57.53 418.20,57.53 418.20,56.73 417.20,56.73 417.20,60.42 416.20,60.42 416.20,59.26 415.20,59.26 415.20,63.03 414.20,63.03 414.20,60.50 413.20,60.50 413.20,57.36 412.20,57.36 412.20,57.56 411.20,57.56 411.20,61.69 410.20,61.69 410.20,59.87 409.20,59.87 409.20,62.08 408.20,62.08 408.20,59.79 407.20,59.79 407.20,59.11 406.20,59.11 406.20,61.60 405.20,61.60 405.20,63.00 404.20,63.00 404.20,62.07 403.20,62.07 403.20,63.04 402.20,63.04 402.20,61.59 401.20,61.59 401.20,57.07 400.20,57.07 400.20,56.86 399.20,56.86 399.20,57.39 398.20,57.39 398.20,57.46 397.20,57.46 397.20,61.41 396.20,61.41 396.20,56.93 395.20,56.93 395.20,59.75 394.20,59.75 394.20,57.65 393.20,57.65 393.20,61.92 392.20,61.92" fill="#000"/>
<polyline points="32.60,163.80 62.90,163.80 66.40,159.30 70.00,155.70 72.00,152.90 74.00,149.30 76.00,146.40 78.60,143.60 82.00,141.40 86.00,140.00 89.00,138.90 91.00,138.60 93.00,140.00 96.40,143.60 100.00,146.10 102.00,149.30 105.00,152.90 108.00,155.70 111.00,157.60 115.00,159.00 119.00,160.60 124.00,162.00 130.00,163.10 136.00,163.50 150.00,163.80 176.40,163.90" fill="none" stroke="#3c3cba" stroke-width="1.15" stroke-linejoin="round"/>
<polyline points="212.50,150.18 213.50,150.57 214.50,150.23 215.50,150.27 216.50,150.39 217.50,150.38 218.50,150.64 219.50,150.40 220.50,150.83 221.50,150.86 222.50,150.43 223.50,150.65 224.50,150.38 225.50,150.40 226.50,150.43 227.50,150.40 228.50,150.36 229.50,150.54 230.50,150.21 231.50,150.24 232.50,150.54 233.50,150.75 234.50,150.80 235.50,150.84 236.50,150.50 237.50,151.00 238.50,150.92 239.50,151.09 240.50,150.92 241.50,150.76 242.50,150.85 243.50,150.58 244.50,150.44 245.50,149.96 246.50,149.75 247.50,149.88 248.50,149.33 249.50,149.61 250.50,148.98 251.50,148.93 252.50,148.56 253.50,148.23 254.50,147.88 255.50,147.64 256.50,146.90 257.50,146.00 258.50,145.13 259.50,143.95 260.50,142.58 261.50,141.31 262.50,140.28 263.50,138.76 264.50,137.49 265.50,136.52 266.50,135.19 267.50,133.57 268.50,132.30 269.50,130.84 270.50,129.95 271.50,128.97 272.50,128.93 273.50,128.40 274.50,128.04 275.50,127.74 276.50,127.21 277.50,126.62 278.50,126.18 279.50,126.26 280.50,125.98 281.50,125.40 282.50,125.35 283.50,125.62 284.50,126.04 285.50,126.45 286.50,126.75 287.50,128.05 288.50,128.91 289.50,129.55 290.50,130.56 291.50,131.48 292.50,132.37 293.50,133.64 294.50,134.42 295.50,135.58 296.50,136.24 297.50,137.60 298.50,138.52 299.50,139.62 300.50,140.23 301.50,140.50 302.50,140.72 303.50,141.45 304.50,141.50 305.50,142.24 306.50,142.59 307.50,143.13 308.50,143.91 309.50,144.43 310.50,144.64 311.50,145.23 312.50,145.70 313.50,145.99 314.50,146.56 315.50,146.77 316.50,147.18 317.50,147.69 318.50,148.10 319.50,148.57 320.50,149.28 321.50,149.72 322.50,149.45 323.50,149.72 324.50,149.69 325.50,149.58 326.50,149.43 327.50,149.37 328.50,149.42 329.50,149.15 330.50,149.35 331.50,149.02 332.50,148.89 333.50,149.29 334.50,148.82 335.50,148.88 336.50,148.88 337.50,148.93 338.50,149.06 339.50,149.53 340.50,149.48 341.50,149.41 342.50,149.28 343.50,149.76 344.50,149.66 345.50,149.86 346.50,149.64 347.50,149.38 348.50,149.34 349.50,149.65 350.50,149.33 351.50,149.25 352.50,149.48 353.50,149.66 354.50,149.91 355.50,150.42 356.40,150.48" fill="none" stroke="#3c3cba" stroke-width="1.15" stroke-linejoin="round"/>
<polyline points="392.50,127.66 393.50,127.56 394.50,127.45 395.50,126.98 396.50,126.90 397.50,127.71 398.50,127.68 399.50,127.45 400.50,128.19 401.50,128.24 402.50,127.75 403.50,128.12 404.50,127.25 405.50,126.80 406.50,127.34 407.50,127.58 408.50,127.98 409.50,127.83 410.50,128.45 411.50,128.23 412.50,127.92 413.50,128.16 414.50,127.94 415.50,127.03 416.50,126.98 417.50,127.39 418.50,126.95 419.50,127.74 420.50,128.53 421.50,128.47 422.50,128.84 423.50,129.14 424.50,129.32 425.50,129.18 426.50,129.05 427.50,128.59 428.50,128.95 429.50,128.53 430.50,128.25 431.50,128.77 432.50,128.46 433.50,128.16 434.50,128.13 435.50,127.72 436.50,127.25 437.50,127.56 438.50,127.82 439.50,127.99 440.50,128.11 441.50,128.72 442.50,129.09 443.50,129.39 444.50,129.04 445.50,128.61 446.50,128.45 447.50,128.18 448.50,127.50 449.50,127.44 450.50,127.02 451.50,126.61 452.50,127.03 453.50,127.14 454.50,127.66 455.50,127.24 456.50,128.15 457.50,128.44 458.50,128.52 459.50,128.21 460.50,128.30 461.50,127.53 462.50,127.60 463.50,128.09 464.50,127.93 465.50,127.72 466.50,127.38 467.50,126.86 468.50,126.67 469.50,126.57 470.50,126.14 471.50,125.27 472.50,125.32 473.50,124.91 474.50,124.67 475.50,125.01 476.50,125.02 477.50,124.94 478.50,124.77 479.50,124.59 480.50,123.75 481.50,123.80 482.50,123.76 483.50,123.77 484.50,123.57 485.50,123.55 486.50,123.31 487.50,122.94 488.50,123.63 489.50,123.80 490.50,124.20 491.50,124.50 492.50,124.79 493.50,125.40 494.50,125.57 495.50,125.93 496.50,126.85 497.50,127.25 498.50,128.23 499.50,128.51 500.50,127.43 501.50,126.95 502.50,126.85 503.50,127.21 504.50,127.14 505.50,126.40 506.50,125.87 507.50,125.44 508.50,125.77 509.50,126.13 510.50,126.30 511.50,126.41 512.50,125.94 513.50,125.56 514.50,125.60 515.50,125.16 516.50,125.17 517.50,124.71 518.50,124.90 519.50,124.31 520.50,124.17 521.50,123.95 522.50,123.60 523.50,123.77 524.50,122.89 525.50,123.19 526.50,122.69 527.50,122.38 528.50,122.90 529.50,124.35 530.50,124.79 531.50,124.29 532.50,123.85 533.50,124.20 534.50,124.27 535.50,124.96 536.30,125.23" fill="none" stroke="#3c3cba" stroke-width="1.15" stroke-linejoin="round"/>
<polyline points="32.60,237.40 61.10,236.70 61.60,236.00 62.10,222.00 62.40,209.00 63.00,208.30 63.60,207.50 64.00,204.00 64.50,203.10 65.20,206.50 66.00,209.30 68.00,215.00 70.00,220.00 72.00,223.60 75.00,226.40 79.00,229.30 84.00,231.40 88.00,232.60 91.00,233.10 94.00,232.60 97.00,231.70 100.00,230.70 102.00,229.70 104.00,229.30 106.00,230.00 107.00,231.70 109.00,232.90 113.00,233.10 117.00,232.60 120.00,232.60 121.00,234.00 125.00,234.30 130.00,234.70 133.00,233.90 136.00,235.30 140.00,235.70 145.00,235.30 148.00,236.10 152.00,236.40 154.00,237.10 157.00,236.40 161.00,236.70 164.00,237.10 176.40,237.10" fill="none" stroke="#c92c2c" stroke-width="1.15" stroke-opacity="0.85" stroke-linejoin="round"/>
<polyline points="212.50,236.90 235.00,236.70 241.00,237.10 250.00,236.40 255.00,235.70 259.00,234.30 262.00,234.00 266.00,234.70 270.00,235.70 274.00,236.10 300.00,236.10 320.00,236.10 322.00,236.70 327.00,237.10 339.00,236.70 356.40,236.80" fill="none" stroke="#c92c2c" stroke-width="1.15" stroke-opacity="0.85" stroke-linejoin="round"/>
<polyline points="392.40,236.20 397.00,236.20 403.00,236.00 407.00,235.80 411.00,236.40 415.00,236.90 422.00,236.60 428.00,237.20 436.00,237.60 444.00,236.90 452.00,237.20 462.00,237.20 475.00,237.30 485.00,236.90 495.00,236.60 505.00,236.90 515.00,236.90 525.00,237.20 536.30,237.30" fill="none" stroke="#c92c2c" stroke-width="1.15" stroke-opacity="0.85" stroke-linejoin="round"/>
<rect x="32.60" y="18.90" width="143.90" height="64.20" fill="none" stroke="#c6c6c6" stroke-width="1"/>
<path d="M32.60,83.10v-1.4M32.60,18.90v1.4M61.38,83.10v-1.4M61.38,18.90v1.4M90.16,83.10v-1.4M90.16,18.90v1.4M118.94,83.10v-1.4M118.94,18.90v1.4M147.72,83.10v-1.4M147.72,18.90v1.4M176.50,83.10v-1.4M176.50,18.90v1.4M32.60,18.90h1.4M176.50,18.90h-1.4M32.60,34.95h1.4M176.50,34.95h-1.4M32.60,51.00h1.4M176.50,51.00h-1.4M32.60,67.05h1.4M176.50,67.05h-1.4M32.60,83.10h1.4M176.50,83.10h-1.4" stroke="#c6c6c6" stroke-width="0.8" fill="none"/>
<text x="31.10" y="93.90" text-anchor="middle" style="font-size:8.6px" textLength="4.21" lengthAdjust="spacingAndGlyphs" stroke="#111" stroke-width="0.1">0</text>
<text x="60.58" y="93.90" text-anchor="middle" style="font-size:8.6px" textLength="8.42" lengthAdjust="spacingAndGlyphs" stroke="#111" stroke-width="0.1">60</text>
<text x="90.16" y="93.90" text-anchor="middle" style="font-size:8.6px" textLength="12.63" lengthAdjust="spacingAndGlyphs" stroke="#111" stroke-width="0.1">120</text>
<text x="118.94" y="93.90" text-anchor="middle" style="font-size:8.6px" textLength="12.63" lengthAdjust="spacingAndGlyphs" stroke="#111" stroke-width="0.1">180</text>
<text x="147.72" y="93.90" text-anchor="middle" style="font-size:8.6px" textLength="12.63" lengthAdjust="spacingAndGlyphs" stroke="#111" stroke-width="0.1">240</text>
<text x="176.50" y="93.90" text-anchor="middle" style="font-size:8.6px" textLength="12.63" lengthAdjust="spacingAndGlyphs" stroke="#111" stroke-width="0.1">300</text>
<text x="29.50" y="22.75" text-anchor="end" style="font-size:8.6px" textLength="4.21" lengthAdjust="spacingAndGlyphs" stroke="#111" stroke-width="0.1">1</text>
<text x="29.50" y="38.80" text-anchor="end" style="font-size:8.6px" textLength="10.52" lengthAdjust="spacingAndGlyphs" stroke="#111" stroke-width="0.1">0.5</text>
<text x="29.50" y="54.85" text-anchor="end" style="font-size:8.6px" textLength="4.21" lengthAdjust="spacingAndGlyphs" stroke="#111" stroke-width="0.1">0</text>
<text x="29.50" y="70.90" text-anchor="end" style="font-size:8.6px" textLength="13.04" lengthAdjust="spacingAndGlyphs" stroke="#111" stroke-width="0.1">-0.5</text>
<text x="29.50" y="86.95" text-anchor="end" style="font-size:8.6px" textLength="6.73" lengthAdjust="spacingAndGlyphs" stroke="#111" stroke-width="0.1">-1</text>
<rect x="32.60" y="99.90" width="143.90" height="64.20" fill="none" stroke="#c6c6c6" stroke-width="1"/>
<path d="M32.60,164.10v-1.4M32.60,99.90v1.4M61.38,164.10v-1.4M61.38,99.90v1.4M90.16,164.10v-1.4M90.16,99.90v1.4M118.94,164.10v-1.4M118.94,99.90v1.4M147.72,164.10v-1.4M147.72,99.90v1.4M176.50,164.10v-1.4M176.50,99.90v1.4M32.60,164.10h1.4M176.50,164.10h-1.4M32.60,148.05h1.4M176.50,148.05h-1.4M32.60,132.00h1.4M176.50,132.00h-1.4M32.60,115.95h1.4M176.50,115.95h-1.4M32.60,99.90h1.4M176.50,99.90h-1.4" stroke="#c6c6c6" stroke-width="0.8" fill="none"/>
<text x="31.10" y="174.90" text-anchor="middle" style="font-size:8.6px" textLength="4.21" lengthAdjust="spacingAndGlyphs" stroke="#111" stroke-width="0.1">0</text>
<text x="60.58" y="174.90" text-anchor="middle" style="font-size:8.6px" textLength="8.42" lengthAdjust="spacingAndGlyphs" stroke="#111" stroke-width="0.1">60</text>
<text x="90.16" y="174.90" text-anchor="middle" style="font-size:8.6px" textLength="12.63" lengthAdjust="spacingAndGlyphs" stroke="#111" stroke-width="0.1">120</text>
<text x="118.94" y="174.90" text-anchor="middle" style="font-size:8.6px" textLength="12.63" lengthAdjust="spacingAndGlyphs" stroke="#111" stroke-width="0.1">180</text>
<text x="147.72" y="174.90" text-anchor="middle" style="font-size:8.6px" textLength="12.63" lengthAdjust="spacingAndGlyphs" stroke="#111" stroke-width="0.1">240</text>
<text x="176.50" y="174.90" text-anchor="middle" style="font-size:8.6px" textLength="12.63" lengthAdjust="spacingAndGlyphs" stroke="#111" stroke-width="0.1">300</text>
<text x="29.50" y="167.95" text-anchor="end" style="font-size:8.6px" textLength="4.21" lengthAdjust="spacingAndGlyphs" stroke="#111" stroke-width="0.1">0</text>
<text x="29.50" y="151.90" text-anchor="end" style="font-size:8.6px" textLength="4.21" lengthAdjust="spacingAndGlyphs" stroke="#111" stroke-width="0.1">1</text>
<text x="29.50" y="135.85" text-anchor="end" style="font-size:8.6px" textLength="4.21" lengthAdjust="spacingAndGlyphs" stroke="#111" stroke-width="0.1">2</text>
<text x="29.50" y="119.80" text-anchor="end" style="font-size:8.6px" textLength="4.21" lengthAdjust="spacingAndGlyphs" stroke="#111" stroke-width="0.1">3</text>
<text x="29.50" y="103.75" text-anchor="end" style="font-size:8.6px" textLength="4.21" lengthAdjust="spacingAndGlyphs" stroke="#111" stroke-width="0.1">4</text>
<rect x="32.60" y="180.90" width="143.90" height="64.20" fill="none" stroke="#c6c6c6" stroke-width="1"/>
<path d="M32.60,245.10v-1.4M32.60,180.90v1.4M61.38,245.10v-1.4M61.38,180.90v1.4M90.16,245.10v-1.4M90.16,180.90v1.4M118.94,245.10v-1.4M118.94,180.90v1.4M147.72,245.10v-1.4M147.72,180.90v1.4M176.50,245.10v-1.4M176.50,180.90v1.4M32.60,245.10h1.4M176.50,245.10h-1.4M32.60,223.70h1.4M176.50,223.70h-1.4M32.60,202.30h1.4M176.50,202.30h-1.4M32.60,180.90h1.4M176.50,180.90h-1.4" stroke="#c6c6c6" stroke-width="0.8" fill="none"/>
<text x="31.10" y="255.90" text-anchor="middle" style="font-size:8.6px" textLength="4.21" lengthAdjust="spacingAndGlyphs" stroke="#111" stroke-width="0.1">0</text>
<text x="60.58" y="255.90" text-anchor="middle" style="font-size:8.6px" textLength="8.42" lengthAdjust="spacingAndGlyphs" stroke="#111" stroke-width="0.1">60</text>
<text x="90.16" y="255.90" text-anchor="middle" style="font-size:8.6px" textLength="12.63" lengthAdjust="spacingAndGlyphs" stroke="#111" stroke-width="0.1">120</text>
<text x="118.94" y="255.90" text-anchor="middle" style="font-size:8.6px" textLength="12.63" lengthAdjust="spacingAndGlyphs" stroke="#111" stroke-width="0.1">180</text>
<text x="147.72" y="255.90" text-anchor="middle" style="font-size:8.6px" textLength="12.63" lengthAdjust="spacingAndGlyphs" stroke="#111" stroke-width="0.1">240</text>
<text x="176.50" y="255.90" text-anchor="middle" style="font-size:8.6px" textLength="12.63" lengthAdjust="spacingAndGlyphs" stroke="#111" stroke-width="0.1">300</text>
<text x="29.50" y="248.95" text-anchor="end" style="font-size:8.6px" textLength="4.21" lengthAdjust="spacingAndGlyphs" stroke="#111" stroke-width="0.1">0</text>
<text x="29.50" y="227.55" text-anchor="end" style="font-size:8.6px" textLength="4.21" lengthAdjust="spacingAndGlyphs" stroke="#111" stroke-width="0.1">2</text>
<text x="29.50" y="206.15" text-anchor="end" style="font-size:8.6px" textLength="4.21" lengthAdjust="spacingAndGlyphs" stroke="#111" stroke-width="0.1">4</text>
<text x="29.50" y="184.75" text-anchor="end" style="font-size:8.6px" textLength="4.21" lengthAdjust="spacingAndGlyphs" stroke="#111" stroke-width="0.1">6</text>
<rect x="212.50" y="18.90" width="143.90" height="64.20" fill="none" stroke="#c6c6c6" stroke-width="1"/>
<path d="M212.50,83.10v-1.4M212.50,18.90v1.4M241.28,83.10v-1.4M241.28,18.90v1.4M270.06,83.10v-1.4M270.06,18.90v1.4M298.84,83.10v-1.4M298.84,18.90v1.4M327.62,83.10v-1.4M327.62,18.90v1.4M356.40,83.10v-1.4M356.40,18.90v1.4M212.50,18.90h1.4M356.40,18.90h-1.4M212.50,34.95h1.4M356.40,34.95h-1.4M212.50,51.00h1.4M356.40,51.00h-1.4M212.50,67.05h1.4M356.40,67.05h-1.4M212.50,83.10h1.4M356.40,83.10h-1.4" stroke="#c6c6c6" stroke-width="0.8" fill="none"/>
<text x="211.00" y="93.90" text-anchor="middle" style="font-size:8.6px" textLength="4.21" lengthAdjust="spacingAndGlyphs" stroke="#111" stroke-width="0.1">0</text>
<text x="240.48" y="93.90" text-anchor="middle" style="font-size:8.6px" textLength="8.42" lengthAdjust="spacingAndGlyphs" stroke="#111" stroke-width="0.1">60</text>
<text x="270.06" y="93.90" text-anchor="middle" style="font-size:8.6px" textLength="12.63" lengthAdjust="spacingAndGlyphs" stroke="#111" stroke-width="0.1">120</text>
<text x="298.84" y="93.90" text-anchor="middle" style="font-size:8.6px" textLength="12.63" lengthAdjust="spacingAndGlyphs" stroke="#111" stroke-width="0.1">180</text>
<text x="327.62" y="93.90" text-anchor="middle" style="font-size:8.6px" textLength="12.63" lengthAdjust="spacingAndGlyphs" stroke="#111" stroke-width="0.1">240</text>
<text x="356.40" y="93.90" text-anchor="middle" style="font-size:8.6px" textLength="12.63" lengthAdjust="spacingAndGlyphs" stroke="#111" stroke-width="0.1">300</text>
<text x="209.40" y="22.75" text-anchor="end" style="font-size:8.6px" textLength="4.21" lengthAdjust="spacingAndGlyphs" stroke="#111" stroke-width="0.1">2</text>
<text x="209.40" y="38.80" text-anchor="end" style="font-size:8.6px" textLength="4.21" lengthAdjust="spacingAndGlyphs" stroke="#111" stroke-width="0.1">1</text>
<text x="209.40" y="54.85" text-anchor="end" style="font-size:8.6px" textLength="4.21" lengthAdjust="spacingAndGlyphs" stroke="#111" stroke-width="0.1">0</text>
<text x="209.40" y="70.90" text-anchor="end" style="font-size:8.6px" textLength="6.73" lengthAdjust="spacingAndGlyphs" stroke="#111" stroke-width="0.1">-1</text>
<text x="209.40" y="86.95" text-anchor="end" style="font-size:8.6px" textLength="6.73" lengthAdjust="spacingAndGlyphs" stroke="#111" stroke-width="0.1">-2</text>
<rect x="212.50" y="99.90" width="143.90" height="64.20" fill="none" stroke="#c6c6c6" stroke-width="1"/>
<path d="M212.50,164.10v-1.4M212.50,99.90v1.4M241.28,164.10v-1.4M241.28,99.90v1.4M270.06,164.10v-1.4M270.06,99.90v1.4M298.84,164.10v-1.4M298.84,99.90v1.4M327.62,164.10v-1.4M327.62,99.90v1.4M356.40,164.10v-1.4M356.40,99.90v1.4M212.50,164.10h1.4M356.40,164.10h-1.4M212.50,148.05h1.4M356.40,148.05h-1.4M212.50,132.00h1.4M356.40,132.00h-1.4M212.50,115.95h1.4M356.40,115.95h-1.4M212.50,99.90h1.4M356.40,99.90h-1.4" stroke="#c6c6c6" stroke-width="0.8" fill="none"/>
<text x="211.00" y="174.90" text-anchor="middle" style="font-size:8.6px" textLength="4.21" lengthAdjust="spacingAndGlyphs" stroke="#111" stroke-width="0.1">0</text>
<text x="240.48" y="174.90" text-anchor="middle" style="font-size:8.6px" textLength="8.42" lengthAdjust="spacingAndGlyphs" stroke="#111" stroke-width="0.1">60</text>
<text x="270.06" y="174.90" text-anchor="middle" style="font-size:8.6px" textLength="12.63" lengthAdjust="spacingAndGlyphs" stroke="#111" stroke-width="0.1">120</text>
<text x="298.84" y="174.90" text-anchor="middle" style="font-size:8.6px" textLength="12.63" lengthAdjust="spacingAndGlyphs" stroke="#111" stroke-width="0.1">180</text>
<text x="327.62" y="174.90" text-anchor="middle" style="font-size:8.6px" textLength="12.63" lengthAdjust="spacingAndGlyphs" stroke="#111" stroke-width="0.1">240</text>
<text x="356.40" y="174.90" text-anchor="middle" style="font-size:8.6px" textLength="12.63" lengthAdjust="spacingAndGlyphs" stroke="#111" stroke-width="0.1">300</text>
<text x="209.40" y="167.95" text-anchor="end" style="font-size:8.6px" textLength="4.21" lengthAdjust="spacingAndGlyphs" stroke="#111" stroke-width="0.1">0</text>
<text x="209.40" y="151.90" text-anchor="end" style="font-size:8.6px" textLength="4.21" lengthAdjust="spacingAndGlyphs" stroke="#111" stroke-width="0.1">1</text>
<text x="209.40" y="135.85" text-anchor="end" style="font-size:8.6px" textLength="4.21" lengthAdjust="spacingAndGlyphs" stroke="#111" stroke-width="0.1">2</text>
<text x="209.40" y="119.80" text-anchor="end" style="font-size:8.6px" textLength="4.21" lengthAdjust="spacingAndGlyphs" stroke="#111" stroke-width="0.1">3</text>
<text x="209.40" y="103.75" text-anchor="end" style="font-size:8.6px" textLength="4.21" lengthAdjust="spacingAndGlyphs" stroke="#111" stroke-width="0.1">4</text>
<rect x="212.50" y="180.90" width="143.90" height="64.20" fill="none" stroke="#c6c6c6" stroke-width="1"/>
<path d="M212.50,245.10v-1.4M212.50,180.90v1.4M241.28,245.10v-1.4M241.28,180.90v1.4M270.06,245.10v-1.4M270.06,180.90v1.4M298.84,245.10v-1.4M298.84,180.90v1.4M327.62,245.10v-1.4M327.62,180.90v1.4M356.40,245.10v-1.4M356.40,180.90v1.4M212.50,245.10h1.4M356.40,245.10h-1.4M212.50,223.70h1.4M356.40,223.70h-1.4M212.50,202.30h1.4M356.40,202.30h-1.4M212.50,180.90h1.4M356.40,180.90h-1.4" stroke="#c6c6c6" stroke-width="0.8" fill="none"/>
<text x="211.00" y="255.90" text-anchor="middle" style="font-size:8.6px" textLength="4.21" lengthAdjust="spacingAndGlyphs" stroke="#111" stroke-width="0.1">0</text>
<text x="240.48" y="255.90" text-anchor="middle" style="font-size:8.6px" textLength="8.42" lengthAdjust="spacingAndGlyphs" stroke="#111" stroke-width="0.1">60</text>
<text x="270.06" y="255.90" text-anchor="middle" style="font-size:8.6px" textLength="12.63" lengthAdjust="spacingAndGlyphs" stroke="#111" stroke-width="0.1">120</text>
<text x="298.84" y="255.90" text-anchor="middle" style="font-size:8.6px" textLength="12.63" lengthAdjust="spacingAndGlyphs" stroke="#111" stroke-width="0.1">180</text>
<text x="327.62" y="255.90" text-anchor="middle" style="font-size:8.6px" textLength="12.63" lengthAdjust="spacingAndGlyphs" stroke="#111" stroke-width="0.1">240</text>
<text x="356.40" y="255.90" text-anchor="middle" style="font-size:8.6px" textLength="12.63" lengthAdjust="spacingAndGlyphs" stroke="#111" stroke-width="0.1">300</text>
<text x="209.40" y="248.95" text-anchor="end" style="font-size:8.6px" textLength="4.21" lengthAdjust="spacingAndGlyphs" stroke="#111" stroke-width="0.1">0</text>
<text x="209.40" y="227.55" text-anchor="end" style="font-size:8.6px" textLength="4.21" lengthAdjust="spacingAndGlyphs" stroke="#111" stroke-width="0.1">2</text>
<text x="209.40" y="206.15" text-anchor="end" style="font-size:8.6px" textLength="4.21" lengthAdjust="spacingAndGlyphs" stroke="#111" stroke-width="0.1">4</text>
<text x="209.40" y="184.75" text-anchor="end" style="font-size:8.6px" textLength="4.21" lengthAdjust="spacingAndGlyphs" stroke="#111" stroke-width="0.1">6</text>
<rect x="392.40" y="18.90" width="143.90" height="64.20" fill="none" stroke="#c6c6c6" stroke-width="1"/>
<path d="M392.40,83.10v-1.4M392.40,18.90v1.4M421.18,83.10v-1.4M421.18,18.90v1.4M449.96,83.10v-1.4M449.96,18.90v1.4M478.74,83.10v-1.4M478.74,18.90v1.4M507.52,83.10v-1.4M507.52,18.90v1.4M536.30,83.10v-1.4M536.30,18.90v1.4M392.40,24.25h1.4M536.30,24.25h-1.4M392.40,51.00h1.4M536.30,51.00h-1.4M392.40,77.75h1.4M536.30,77.75h-1.4" stroke="#c6c6c6" stroke-width="0.8" fill="none"/>
<text x="390.90" y="93.90" text-anchor="middle" style="font-size:8.6px" textLength="4.21" lengthAdjust="spacingAndGlyphs" stroke="#111" stroke-width="0.1">0</text>
<text x="420.38" y="93.90" text-anchor="middle" style="font-size:8.6px" textLength="8.42" lengthAdjust="spacingAndGlyphs" stroke="#111" stroke-width="0.1">60</text>
<text x="449.96" y="93.90" text-anchor="middle" style="font-size:8.6px" textLength="12.63" lengthAdjust="spacingAndGlyphs" stroke="#111" stroke-width="0.1">120</text>
<text x="478.74" y="93.90" text-anchor="middle" style="font-size:8.6px" textLength="12.63" lengthAdjust="spacingAndGlyphs" stroke="#111" stroke-width="0.1">180</text>
<text x="507.52" y="93.90" text-anchor="middle" style="font-size:8.6px" textLength="12.63" lengthAdjust="spacingAndGlyphs" stroke="#111" stroke-width="0.1">240</text>
<text x="536.30" y="93.90" text-anchor="middle" style="font-size:8.6px" textLength="12.63" lengthAdjust="spacingAndGlyphs" stroke="#111" stroke-width="0.1">300</text>
<text x="389.30" y="28.10" text-anchor="end" style="font-size:8.6px" textLength="4.21" lengthAdjust="spacingAndGlyphs" stroke="#111" stroke-width="0.1">5</text>
<text x="389.30" y="54.85" text-anchor="end" style="font-size:8.6px" textLength="4.21" lengthAdjust="spacingAndGlyphs" stroke="#111" stroke-width="0.1">0</text>
<text x="389.30" y="81.60" text-anchor="end" style="font-size:8.6px" textLength="6.73" lengthAdjust="spacingAndGlyphs" stroke="#111" stroke-width="0.1">-5</text>
<rect x="392.40" y="99.90" width="143.90" height="64.20" fill="none" stroke="#c6c6c6" stroke-width="1"/>
<path d="M392.40,164.10v-1.4M392.40,99.90v1.4M421.18,164.10v-1.4M421.18,99.90v1.4M449.96,164.10v-1.4M449.96,99.90v1.4M478.74,164.10v-1.4M478.74,99.90v1.4M507.52,164.10v-1.4M507.52,99.90v1.4M536.30,164.10v-1.4M536.30,99.90v1.4M392.40,164.10h1.4M536.30,164.10h-1.4M392.40,148.05h1.4M536.30,148.05h-1.4M392.40,132.00h1.4M536.30,132.00h-1.4M392.40,115.95h1.4M536.30,115.95h-1.4M392.40,99.90h1.4M536.30,99.90h-1.4" stroke="#c6c6c6" stroke-width="0.8" fill="none"/>
<text x="390.90" y="174.90" text-anchor="middle" style="font-size:8.6px" textLength="4.21" lengthAdjust="spacingAndGlyphs" stroke="#111" stroke-width="0.1">0</text>
<text x="420.38" y="174.90" text-anchor="middle" style="font-size:8.6px" textLength="8.42" lengthAdjust="spacingAndGlyphs" stroke="#111" stroke-width="0.1">60</text>
<text x="449.96" y="174.90" text-anchor="middle" style="font-size:8.6px" textLength="12.63" lengthAdjust="spacingAndGlyphs" stroke="#111" stroke-width="0.1">120</text>
<text x="478.74" y="174.90" text-anchor="middle" style="font-size:8.6px" textLength="12.63" lengthAdjust="spacingAndGlyphs" stroke="#111" stroke-width="0.1">180</text>
<text x="507.52" y="174.90" text-anchor="middle" style="font-size:8.6px" textLength="12.63" lengthAdjust="spacingAndGlyphs" stroke="#111" stroke-width="0.1">240</text>
<text x="536.30" y="174.90" text-anchor="middle" style="font-size:8.6px" textLength="12.63" lengthAdjust="spacingAndGlyphs" stroke="#111" stroke-width="0.1">300</text>
<text x="389.30" y="167.95" text-anchor="end" style="font-size:8.6px" textLength="4.21" lengthAdjust="spacingAndGlyphs" stroke="#111" stroke-width="0.1">0</text>
<text x="389.30" y="151.90" text-anchor="end" style="font-size:8.6px" textLength="4.21" lengthAdjust="spacingAndGlyphs" stroke="#111" stroke-width="0.1">1</text>
<text x="389.30" y="135.85" text-anchor="end" style="font-size:8.6px" textLength="4.21" lengthAdjust="spacingAndGlyphs" stroke="#111" stroke-width="0.1">2</text>
<text x="389.30" y="119.80" text-anchor="end" style="font-size:8.6px" textLength="4.21" lengthAdjust="spacingAndGlyphs" stroke="#111" stroke-width="0.1">3</text>
<text x="389.30" y="103.75" text-anchor="end" style="font-size:8.6px" textLength="4.21" lengthAdjust="spacingAndGlyphs" stroke="#111" stroke-width="0.1">4</text>
<rect x="392.40" y="180.90" width="143.90" height="64.20" fill="none" stroke="#c6c6c6" stroke-width="1"/>
<path d="M392.40,245.10v-1.4M392.40,180.90v1.4M421.18,245.10v-1.4M421.18,180.90v1.4M449.96,245.10v-1.4M449.96,180.90v1.4M478.74,245.10v-1.4M478.74,180.90v1.4M507.52,245.10v-1.4M507.52,180.90v1.4M536.30,245.10v-1.4M536.30,180.90v1.4M392.40,245.10h1.4M536.30,245.10h-1.4M392.40,223.70h1.4M536.30,223.70h-1.4M392.40,202.30h1.4M536.30,202.30h-1.4M392.40,180.90h1.4M536.30,180.90h-1.4" stroke="#c6c6c6" stroke-width="0.8" fill="none"/>
<text x="390.90" y="255.90" text-anchor="middle" style="font-size:8.6px" textLength="4.21" lengthAdjust="spacingAndGlyphs" stroke="#111" stroke-width="0.1">0</text>
<text x="420.38" y="255.90" text-anchor="middle" style="font-size:8.6px" textLength="8.42" lengthAdjust="spacingAndGlyphs" stroke="#111" stroke-width="0.1">60</text>
<text x="449.96" y="255.90" text-anchor="middle" style="font-size:8.6px" textLength="12.63" lengthAdjust="spacingAndGlyphs" stroke="#111" stroke-width="0.1">120</text>
<text x="478.74" y="255.90" text-anchor="middle" style="font-size:8.6px" textLength="12.63" lengthAdjust="spacingAndGlyphs" stroke="#111" stroke-width="0.1">180</text>
<text x="507.52" y="255.90" text-anchor="middle" style="font-size:8.6px" textLength="12.63" lengthAdjust="spacingAndGlyphs" stroke="#111" stroke-width="0.1">240</text>
<text x="536.30" y="255.90" text-anchor="middle" style="font-size:8.6px" textLength="12.63" lengthAdjust="spacingAndGlyphs" stroke="#111" stroke-width="0.1">300</text>
<text x="389.30" y="248.95" text-anchor="end" style="font-size:8.6px" textLength="4.21" lengthAdjust="spacingAndGlyphs" stroke="#111" stroke-width="0.1">0</text>
<text x="389.30" y="227.55" text-anchor="end" style="font-size:8.6px" textLength="4.21" lengthAdjust="spacingAndGlyphs" stroke="#111" stroke-width="0.1">2</text>
<text x="389.30" y="206.15" text-anchor="end" style="font-size:8.6px" textLength="4.21" lengthAdjust="spacingAndGlyphs" stroke="#111" stroke-width="0.1">4</text>
<text x="389.30" y="184.75" text-anchor="end" style="font-size:8.6px" textLength="4.21" lengthAdjust="spacingAndGlyphs" stroke="#111" stroke-width="0.1">6</text>
<text transform="translate(13.60,51.20) rotate(-90)" text-anchor="middle" style="font-size:9.1px" textLength="27.31" lengthAdjust="spacingAndGlyphs" stroke="#111" stroke-width="0.2">V (m/s)</text>
<text transform="translate(199.60,51.20) rotate(-90)" text-anchor="middle" style="font-size:9.1px" textLength="27.31" lengthAdjust="spacingAndGlyphs" stroke="#111" stroke-width="0.2">V (m/s)</text>
<text transform="translate(379.50,51.20) rotate(-90)" text-anchor="middle" style="font-size:9.1px" textLength="27.31" lengthAdjust="spacingAndGlyphs" stroke="#111" stroke-width="0.2">V (m/s)</text>
<text transform="translate(22.10,132.00) rotate(-90)" text-anchor="middle" style="font-size:9.1px" textLength="12.74" lengthAdjust="spacingAndGlyphs" stroke="#111" stroke-width="0.2">MA</text>
<text transform="translate(22.10,213.00) rotate(-90)" text-anchor="middle" style="font-size:9.1px" textLength="7.74" lengthAdjust="spacingAndGlyphs" stroke="#111" stroke-width="0.2">SI</text>
<text x="104.55" y="266.00" text-anchor="middle" style="font-size:8.8px" textLength="40.33" lengthAdjust="spacingAndGlyphs" stroke="#111" stroke-width="0.15">Time (sec)</text>
<text transform="translate(202.00,132.00) rotate(-90)" text-anchor="middle" style="font-size:9.1px" textLength="12.74" lengthAdjust="spacingAndGlyphs" stroke="#111" stroke-width="0.2">MA</text>
<text transform="translate(202.00,213.00) rotate(-90)" text-anchor="middle" style="font-size:9.1px" textLength="7.74" lengthAdjust="spacingAndGlyphs" stroke="#111" stroke-width="0.2">SI</text>
<text x="284.45" y="266.00" text-anchor="middle" style="font-size:8.8px" textLength="40.33" lengthAdjust="spacingAndGlyphs" stroke="#111" stroke-width="0.15">Time (sec)</text>
<text transform="translate(381.90,132.00) rotate(-90)" text-anchor="middle" style="font-size:9.1px" textLength="12.74" lengthAdjust="spacingAndGlyphs" stroke="#111" stroke-width="0.2">MA</text>
<text transform="translate(381.90,213.00) rotate(-90)" text-anchor="middle" style="font-size:9.1px" textLength="7.74" lengthAdjust="spacingAndGlyphs" stroke="#111" stroke-width="0.2">SI</text>
<text x="464.35" y="266.00" text-anchor="middle" style="font-size:8.8px" textLength="40.33" lengthAdjust="spacingAndGlyphs" stroke="#111" stroke-width="0.15">Time (sec)</text>
<text x="167.50" y="14.00" text-anchor="middle" style="font-size:8.0px" stroke="#111" stroke-width="0.25">(a)</text>
<text x="347.40" y="14.00" text-anchor="middle" style="font-size:8.0px" stroke="#111" stroke-width="0.25">(b)</text>
<text x="527.30" y="14.00" text-anchor="middle" style="font-size:8.0px" stroke="#111" stroke-width="0.25">(c)</text>
<text x="33.60" y="17.7" style="font-weight:normal;font-size:9.8px;fill:#222">×</text>
<text x="39.80" y="17.70" text-anchor="start" style="font-size:8.2px" textLength="8.66" lengthAdjust="spacingAndGlyphs">10</text>
<text x="48.60" y="13.20" text-anchor="start" style="font-size:6.3px" textLength="5.32" lengthAdjust="spacingAndGlyphs">-5</text>
<text x="213.50" y="17.7" style="font-weight:normal;font-size:9.8px;fill:#222">×</text>
<text x="219.70" y="17.70" text-anchor="start" style="font-size:8.2px" textLength="8.66" lengthAdjust="spacingAndGlyphs">10</text>
<text x="228.50" y="13.20" text-anchor="start" style="font-size:6.3px" textLength="5.32" lengthAdjust="spacingAndGlyphs">-6</text>
<text x="393.40" y="17.7" style="font-weight:normal;font-size:9.8px;fill:#222">×</text>
<text x="399.60" y="17.70" text-anchor="start" style="font-size:8.2px" textLength="8.66" lengthAdjust="spacingAndGlyphs">10</text>
<text x="408.40" y="13.20" text-anchor="start" style="font-size:6.3px" textLength="5.32" lengthAdjust="spacingAndGlyphs">-7</text>
<path d="M276.3,182.8V218.4H356.2" stroke="#a8a8a8" stroke-width="0.8" fill="none"/>
<polyline points="276.40,206.24 277.40,206.43 278.40,206.76 279.40,206.73 280.40,207.07 281.40,206.99 282.40,206.46 283.40,206.06 284.40,206.39 285.40,206.40 286.40,206.31 287.40,206.70 288.40,207.14 289.40,207.22 290.40,208.02 291.40,208.41 292.40,208.17 293.40,207.42 294.40,207.07 295.40,206.25 296.40,206.13 297.40,206.06 298.40,205.78 299.40,204.89 300.40,203.62 301.40,201.53 302.40,198.70 303.40,196.29 304.40,194.95 305.40,194.43 306.40,195.42 307.40,195.98 308.40,197.35 309.40,198.46 310.40,199.89 311.40,201.08 312.40,202.09 313.40,202.95 314.40,203.74 315.40,203.83 316.40,203.57 317.40,203.53 318.40,203.72 319.40,203.38 320.40,203.08 321.40,202.89 322.40,203.20 323.40,203.28 324.40,204.22 325.40,204.10 326.40,203.76 327.40,203.51 328.40,203.31 329.40,202.93 330.40,203.19 331.40,203.15 332.40,203.55 333.40,203.37 334.40,203.90 335.40,204.48 336.40,205.44 337.40,207.01 338.40,207.83 339.40,208.38 340.40,208.23 341.40,207.95 342.40,207.80 343.40,207.82 344.40,207.79 345.40,207.59 346.40,207.31 347.40,207.14 348.40,207.14 349.40,206.91 350.40,206.98 351.40,206.88 352.40,206.66 353.40,206.27 354.40,206.75 355.00,206.46" fill="none" stroke="#c92c2c" stroke-width="0.9" stroke-opacity="0.85" stroke-linejoin="round"/>
<text x="274.4" y="188.70" text-anchor="end" class="i">1.2</text>
<text x="274.4" y="197.90" text-anchor="end" class="i">1</text>
<text x="274.4" y="206.90" text-anchor="end" class="i">0.8</text>
<text x="274.4" y="215.60" text-anchor="end" class="i">0.6</text>
<text x="276.20" y="225.0" text-anchor="middle" class="i">0</text>
<text x="292.60" y="225.0" text-anchor="middle" class="i">60</text>
<text x="309.50" y="225.0" text-anchor="middle" class="i">120</text>
<text x="326.00" y="225.0" text-anchor="middle" class="i">180</text>
<text x="342.30" y="225.0" text-anchor="middle" class="i">240</text>
<text x="317.6" y="230.1" text-anchor="middle" class="i">Time (sec)</text>
<text transform="translate(266.6,200.5) rotate(-90)" text-anchor="middle" class="i" style="font-size:4.7px">SI</text>
<rect x="292.4" y="192.9" width="49.5" height="18" fill="none" stroke="#555" stroke-width="0.8" stroke-dasharray="0.9 1.2"/>
<rect x="241.3" y="231.4" width="86.1" height="8.6" fill="none" stroke="#444" stroke-width="0.8" stroke-dasharray="0.9 1.2"/>
<path d="M241.3,231.4L292.4,210.9M327.4,231.4L341.9,210.9" stroke="#777" stroke-width="0.7" fill="none"/>
</svg>
</body></html>
